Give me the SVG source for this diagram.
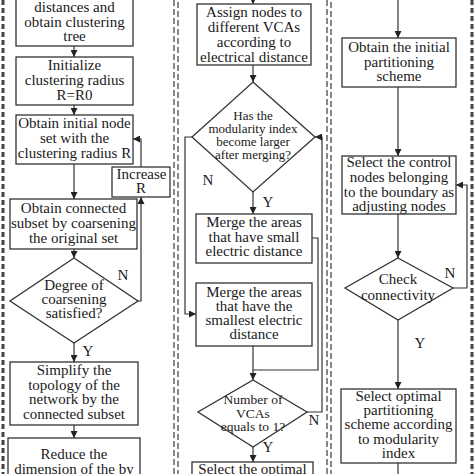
<svg xmlns="http://www.w3.org/2000/svg" width="474" height="474" viewBox="0 0 474 474">
<style>
  .bx{fill:#fff;stroke:#333;stroke-width:1.3}
  .t{font-family:"Liberation Serif","Times New Roman",serif;font-size:15px;fill:#1a1a1a;text-anchor:middle}
  .s13{font-size:13px}
  .s135{font-size:13.5px}
  .c{fill:none;stroke:#333;stroke-width:1.2}
  .dk{fill:none;stroke:#444;stroke-width:3;stroke-dasharray:5 3}
  .dl{fill:none;stroke:#555;stroke-width:1.4;stroke-dasharray:6 3}
</style>
<defs>
  <marker id="arr" viewBox="0 0 8 8" refX="8" refY="4" markerWidth="7" markerHeight="7" orient="auto" markerUnits="userSpaceOnUse">
    <path d="M0,0 L8,4 L0,8 z" fill="#222"/>
  </marker>
</defs>
<rect width="474" height="474" fill="#fff"/>

<g id="dividers">
  <line class="dk" x1="3" y1="0" x2="3" y2="474"/>
  <line class="dl" x1="174" y1="0" x2="174" y2="474"/>
  <line class="dl" x1="178" y1="2" x2="178" y2="474"/>
  <line class="dl" x1="327" y1="0" x2="327" y2="474"/>
  <line class="dl" x1="331" y1="2" x2="331" y2="474"/>
  <line class="dk" x1="472" y1="0" x2="472" y2="474"/>
</g>

<g id="connectors">
  <path class="c" d="M74,46 V57" marker-end="url(#arr)"/>
  <path class="c" d="M74,105 V115" marker-end="url(#arr)"/>
  <path class="c" d="M74,164 V199" marker-end="url(#arr)"/>
  <path class="c" d="M141,167 V139 H133" marker-end="url(#arr)"/>
  <path class="c" d="M138,301 H141 V197" marker-end="url(#arr)"/>
  <path class="c" d="M74,249 V258" marker-end="url(#arr)"/>
  <path class="c" d="M74,343 V362" marker-end="url(#arr)"/>
  <path class="c" d="M74,425 V438" marker-end="url(#arr)"/>

  <path class="c" d="M253,0 V4" marker-end="url(#arr)"/>
  <path class="c" d="M253,65 V82" marker-end="url(#arr)"/>
  <path class="c" d="M253,192 V214" marker-end="url(#arr)"/>
  <path class="c" d="M192,137 H185 V314 H196" marker-end="url(#arr)"/>
  <path class="c" d="M312,238 H318 V370 H253"/>
  <path class="c" d="M253,346 V380" marker-end="url(#arr)"/>
  <path class="c" d="M307,412 H322 V137 H315" marker-end="url(#arr)"/>
  <path class="c" d="M253,447 V462" marker-end="url(#arr)"/>

  <path class="c" d="M398,0 V38" marker-end="url(#arr)"/>
  <path class="c" d="M398,87 V156" marker-end="url(#arr)"/>
  <path class="c" d="M398,214 V258" marker-end="url(#arr)"/>
  <path class="c" d="M453,288 H467 V185 H456" marker-end="url(#arr)"/>
  <path class="c" d="M398,320 V389" marker-end="url(#arr)"/>
  <path class="c" d="M398,463 V474"/>
</g>

<g id="labels">
  <text class="t" x="123" y="280">N</text>
  <text class="t" x="88" y="356">Y</text>
  <text class="t" x="208" y="185">N</text>
  <text class="t" x="268" y="207">Y</text>
  <text class="t" x="314" y="425">N</text>
  <text class="t" x="268" y="452">Y</text>
  <text class="t" x="450" y="278">N</text>
  <text class="t" x="420" y="348">Y</text>
</g>

<g id="n1">
  <rect class="bx" x="16" y="-10" width="117" height="56"/>
  <text class="t"><tspan x="74.5" y="12">distances and</tspan><tspan x="74.5" y="27">obtain clustering</tspan><tspan x="74.5" y="41">tree</tspan></text>
</g>
<g id="n2">
  <rect class="bx" x="16" y="57" width="117" height="48"/>
  <text class="t"><tspan x="74.5" y="70">Initialize</tspan><tspan x="74.5" y="85">clustering radius</tspan><tspan x="74.5" y="100">R=R0</tspan></text>
</g>
<g id="n3">
  <rect class="bx" x="16" y="115" width="117" height="49"/>
  <text class="t"><tspan x="74.5" y="128">Obtain initial node</tspan><tspan x="74.5" y="143">set with the</tspan><tspan x="74.5" y="158">clustering radius R</tspan></text>
</g>
<g id="n_increase">
  <rect class="bx" x="112" y="167" width="58" height="30"/>
  <text class="t"><tspan x="141.5" y="179">Increase</tspan><tspan x="141" y="193">R</tspan></text>
</g>
<g id="n4">
  <rect class="bx" x="10" y="199" width="127" height="50"/>
  <text class="t"><tspan x="73.5" y="213">Obtain connected</tspan><tspan x="73.5" y="228">subset by coarsening</tspan><tspan x="73.5" y="243">the original set</tspan></text>
</g>
<g id="d1">
  <polygon class="bx" points="74,258 138,301 74,343 10,301"/>
  <text class="t"><tspan x="74" y="290">Degree of</tspan><tspan x="74" y="304">coarsening</tspan><tspan x="74" y="318">satisfied?</tspan></text>
</g>
<g id="n5">
  <rect class="bx" x="10" y="362" width="128" height="63"/>
  <text class="t"><tspan x="74" y="375">Simplify the</tspan><tspan x="74" y="389.5">topology of the</tspan><tspan x="74" y="404">network by the</tspan><tspan x="74" y="418.5">connected subset</tspan></text>
</g>
<g id="n6">
  <rect class="bx" x="8" y="438" width="132" height="50"/>
  <text class="t"><tspan x="74" y="459">Reduce the</tspan><tspan x="74" y="474">dimension of the by</tspan></text>
</g>

<g id="nA">
  <rect class="bx" x="197" y="4" width="114" height="61"/>
  <text class="t"><tspan x="254" y="17">Assign nodes to</tspan><tspan x="254" y="32">different VCAs</tspan><tspan x="254" y="47">according to</tspan><tspan x="254" y="61.5">electrical distance</tspan></text>
</g>
<g id="d2">
  <polygon class="bx" points="253,82 315,137 253,192 192,137"/>
  <text class="t s13"><tspan x="253" y="120">Has the</tspan><tspan x="253" y="133">modularity index</tspan><tspan x="253" y="146">become larger</tspan><tspan x="253" y="159">after merging?</tspan></text>
</g>
<g id="nB">
  <rect class="bx" x="196" y="214" width="116" height="49"/>
  <text class="t"><tspan x="254" y="227">Merge the areas</tspan><tspan x="254" y="241.5">that have small</tspan><tspan x="254" y="256">electric distance</tspan></text>
</g>
<g id="nC">
  <rect class="bx" x="196" y="283" width="116" height="63"/>
  <text class="t"><tspan x="254" y="297">Merge the areas</tspan><tspan x="254" y="311">that have the</tspan><tspan x="254" y="325">smallest electric</tspan><tspan x="254" y="339">distance</tspan></text>
</g>
<g id="d3">
  <polygon class="bx" points="253,380 307,412 253,447 198,412"/>
  <text class="t s135"><tspan x="253" y="404">Number of</tspan><tspan x="253" y="418">VCAs</tspan><tspan x="253" y="431">equals to 1?</tspan></text>
</g>
<g id="nD">
  <rect class="bx" x="192" y="462" width="121" height="30"/>
  <text class="t"><tspan x="252.5" y="474">Select the optimal</tspan></text>
</g>

<g id="nE">
  <rect class="bx" x="342" y="38" width="114" height="49"/>
  <text class="t"><tspan x="399" y="52">Obtain the initial</tspan><tspan x="399" y="66.5">partitioning</tspan><tspan x="399" y="81">scheme</tspan></text>
</g>
<g id="nF">
  <rect class="bx" x="342" y="156" width="114" height="58"/>
  <text class="t"><tspan x="399" y="167">Select the control</tspan><tspan x="399" y="182">nodes belonging</tspan><tspan x="399" y="196.5">to the boundary as</tspan><tspan x="399" y="211">adjusting nodes</tspan></text>
</g>
<g id="d4">
  <polygon class="bx" points="398,258 453,288 398,320 345,288"/>
  <text class="t"><tspan x="398" y="284">Check</tspan><tspan x="398" y="300">connectivity</tspan></text>
</g>
<g id="nG">
  <rect class="bx" x="341" y="389" width="115" height="74"/>
  <text class="t"><tspan x="398.5" y="401">Select optimal</tspan><tspan x="398.5" y="415">partitioning</tspan><tspan x="398.5" y="429">scheme according</tspan><tspan x="398.5" y="443.5">to modularity</tspan><tspan x="398.5" y="458">index</tspan></text>
</g>
</svg>
